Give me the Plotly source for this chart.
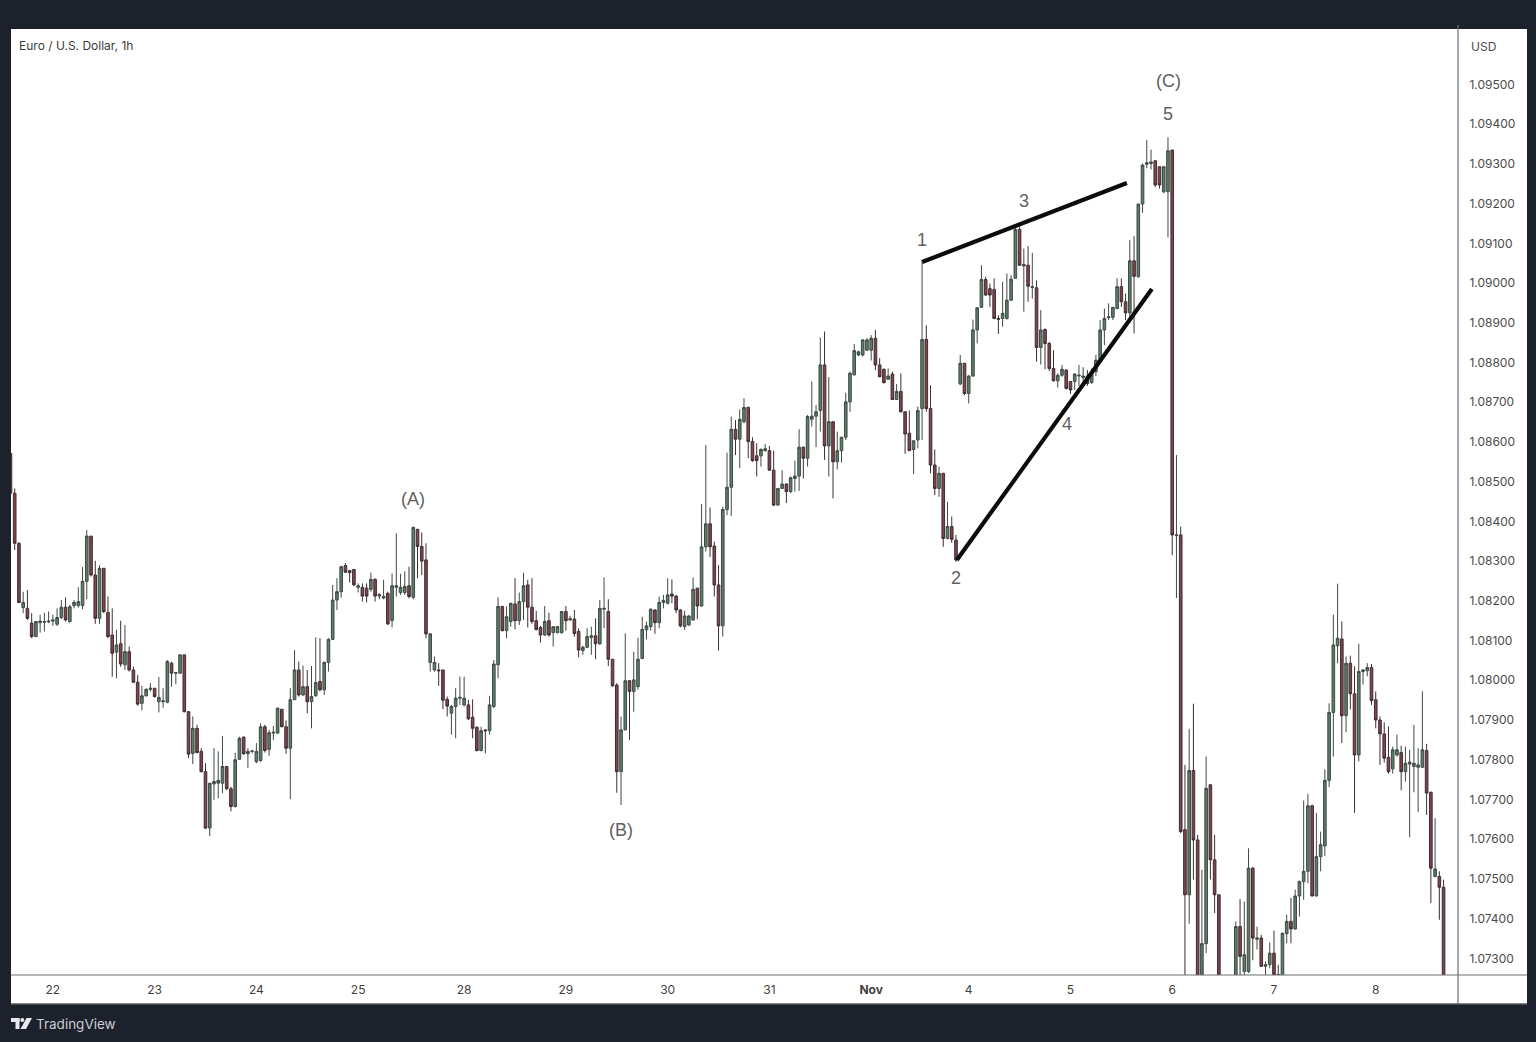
import plotly.graph_objects as go

opens = [1.08571,1.08471,1.08345,1.08183,1.08181,1.08144,1.08110,1.08145,1.08146,1.08147,1.08149,
1.08141,1.08158,1.08184,1.08148,1.08188,1.08188,1.08188,1.08249,1.08363,1.08265,
1.08156,1.08282,1.08171,1.08114,1.08071,1.08092,1.08039,1.08072,1.08026,1.07995,
1.07942,1.07961,1.07977,1.07980,1.07946,1.07946,1.07945,1.08043,1.08018,1.08018,
1.08064,1.07921,1.07816,1.07879,1.07821,1.07770,1.07628,1.07739,1.07741,1.07741,
1.07783,1.07727,1.07682,1.07801,1.07857,1.07815,1.07821,1.07795,1.07798,1.07883,
1.07826,1.07867,1.07867,1.07927,1.07883,1.07829,1.07951,1.08026,1.07963,1.07984,
1.07946,1.07961,1.07997,1.07976,1.08045,1.08103,1.08202,1.08223,1.08289,1.08276,
1.08279,1.08234,1.08234,1.08232,1.08229,1.08254,1.08212,1.08207,1.08219,1.08150,
1.08234,1.08221,1.08221,1.08238,1.08209,1.08380,1.08337,1.08303,1.08045,1.08026,
1.08026,1.08026,1.07952,1.07917,1.07934,1.07955,1.07938,1.07938,1.07907,1.07882,
1.07823,1.07875,1.07873,1.07934,1.08039,1.08186,1.08125,1.08148,1.08192,1.08150,
1.08198,1.08240,1.08184,1.08150,1.08133,1.08114,1.08150,1.08120,1.08120,1.08120,
1.08173,1.08152,1.08154,1.08123,1.08075,1.08083,1.08108,1.08112,1.08092,1.08179,
1.08173,1.08053,1.07988,1.07770,1.07875,1.07999,1.07972,1.07984,1.08055,1.08127,
1.08135,1.08177,1.08145,1.08196,1.08194,1.08217,1.08212,1.08177,1.08135,1.08139,
1.08152,1.08232,1.08187,1.08336,1.08394,1.08338,1.08240,1.08137,1.08430,1.08486,
1.08632,1.08607,1.08651,1.08687,1.08601,1.08565,1.08565,1.08578,1.08578,1.08529,
1.08441,1.08483,1.08494,1.08475,1.08508,1.08514,1.08587,1.08559,1.08657,1.08665,
1.08679,1.08794,1.08590,1.08651,1.08550,1.08578,1.08612,1.08701,1.08769,1.08819,
1.08819,1.08831,1.08831,1.08861,1.08794,1.08783,1.08758,1.08771,1.08707,1.08727,
1.08676,1.08622,1.08581,1.08605,1.08684,1.08858,1.08684,1.08542,1.08483,1.08521,
1.08357,1.08387,1.08353,1.08746,1.08798,1.08722,1.08766,1.08882,1.08939,1.09009,
1.08986,1.08984,1.08911,1.08911,1.08911,1.08957,1.09012,1.09135,1.09043,1.09045,
1.08989,1.08988,1.08838,1.08883,1.08848,1.08785,1.08754,1.08768,1.08781,1.08752,
1.08752,1.08766,1.08762,1.08766,1.08750,1.08777,1.08802,1.08882,1.08913,1.08914,
1.08936,1.08991,1.08953,1.08925,1.09056,1.09016,1.09199,1.09299,1.09301,1.09308,
1.09293,1.09230,1.09230,1.09335,1.08364,1.08366,1.07624,1.07460,1.07773,1.07598,
1.07187,1.07337,1.07737,1.07548,1.07460,1.07187,1.07229,1.07196,1.07229,1.07380,
1.07267,1.07267,1.07527,1.07348,1.07351,1.07280,1.07284,1.07313,1.07259,1.07254,
1.07362,1.07393,1.07374,1.07457,1.07493,1.07519,1.07684,1.07457,1.07556,1.07583,
1.07748,1.07919,1.08087,1.08104,1.07911,1.08043,1.07966,1.07812,1.08022,1.08024,
1.08032,1.07951,1.07900,1.07865,1.07806,1.07777,1.07812,1.07818,1.07770,1.07789,
1.07783,1.07781,1.07781,1.07823,1.07718,1.07506,1.07506,1.07479]

closes = [1.08471,1.08345,1.08196,1.08196,1.08156,1.08110,1.08148,1.08149,1.08148,1.08149,1.08152,
1.08158,1.08184,1.08152,1.08185,1.08196,1.08198,1.08249,1.08363,1.08265,1.08156,
1.08282,1.08173,1.08110,1.08068,1.08089,1.08041,1.08072,1.08026,1.07995,1.07940,
1.07961,1.07977,1.07980,1.07959,1.07957,1.07948,1.08047,1.08018,1.08019,1.08064,
1.07921,1.07814,1.07879,1.07818,1.07770,1.07628,1.07741,1.07745,1.07748,1.07783,
1.07727,1.07682,1.07800,1.07854,1.07815,1.07821,1.07822,1.07821,1.07883,1.07823,
1.07868,1.07869,1.07930,1.07883,1.07829,1.07951,1.08026,1.07963,1.07984,1.07946,
1.07959,1.07994,1.07976,1.08045,1.08103,1.08202,1.08223,1.08286,1.08272,1.08271,
1.08240,1.08238,1.08212,1.08212,1.08254,1.08212,1.08216,1.08211,1.08142,1.08238,
1.08238,1.08234,1.08236,1.08211,1.08385,1.08337,1.08300,1.08117,1.08117,1.08045,
1.08024,1.07950,1.07935,1.07934,1.07955,1.07957,1.07955,1.07903,1.07879,1.07823,
1.07873,1.07873,1.07938,1.08041,1.08186,1.08125,1.08160,1.08194,1.08150,1.08198,
1.08238,1.08184,1.08148,1.08128,1.08114,1.08148,1.08114,1.08135,1.08135,1.08173,
1.08150,1.08155,1.08118,1.08076,1.08083,1.08110,1.08112,1.08092,1.08181,1.08181,
1.08053,1.07986,1.07770,1.07875,1.07999,1.07972,1.08001,1.08053,1.08128,1.08137,
1.08179,1.08145,1.08196,1.08201,1.08215,1.08212,1.08177,1.08137,1.08162,1.08162,
1.08229,1.08187,1.08336,1.08394,1.08336,1.08240,1.08137,1.08430,1.08486,1.08632,
1.08607,1.08657,1.08687,1.08601,1.08553,1.08553,1.08581,1.08583,1.08529,1.08441,
1.08483,1.08494,1.08475,1.08510,1.08514,1.08587,1.08559,1.08664,1.08665,1.08676,
1.08794,1.08590,1.08651,1.08550,1.08578,1.08612,1.08701,1.08773,1.08830,1.08827,
1.08857,1.08857,1.08861,1.08794,1.08764,1.08749,1.08766,1.08707,1.08727,1.08676,
1.08620,1.08578,1.08603,1.08679,1.08858,1.08684,1.08542,1.08483,1.08521,1.08357,
1.08387,1.08355,1.08303,1.08798,1.08722,1.08766,1.08882,1.08938,1.09009,1.08970,
1.08970,1.08911,1.08909,1.08924,1.08957,1.09010,1.09135,1.09045,1.09047,1.08992,
1.08991,1.08838,1.08882,1.08848,1.08785,1.08754,1.08768,1.08783,1.08735,1.08731,
1.08771,1.08768,1.08766,1.08747,1.08777,1.08806,1.08882,1.08911,1.08915,1.08939,
1.08991,1.08953,1.08925,1.09056,1.09017,1.09199,1.09297,1.09303,1.09305,1.09247,
1.09247,1.09293,1.09333,1.08366,1.08366,1.07619,1.07460,1.07773,1.07598,1.07187,
1.07337,1.07728,1.07548,1.07460,1.07187,1.07229,1.07196,1.07238,1.07380,1.07305,
1.07309,1.07527,1.07351,1.07351,1.07280,1.07284,1.07313,1.07259,1.07238,1.07363,
1.07393,1.07374,1.07457,1.07493,1.07519,1.07684,1.07457,1.07556,1.07586,1.07748,
1.07919,1.08089,1.08106,1.07911,1.08043,1.07966,1.07812,1.08022,1.08026,1.08032,
1.07949,1.07900,1.07865,1.07804,1.07770,1.07825,1.07825,1.07770,1.07791,1.07794,
1.07791,1.07787,1.07825,1.07716,1.07527,1.07525,1.07479,1.07187]

highs = [1.08571,1.08483,1.08347,1.08223,1.08227,1.08169,1.08148,1.08165,1.08170,1.08173,1.08165,
1.08181,1.08202,1.08209,1.08190,1.08202,1.08234,1.08285,1.08378,1.08363,1.08301,
1.08290,1.08282,1.08211,1.08181,1.08127,1.08150,1.08139,1.08085,1.08034,1.08013,
1.07986,1.07980,1.07993,1.07980,1.08008,1.07980,1.08051,1.08047,1.08020,1.08064,
1.08064,1.07921,1.07909,1.07888,1.07829,1.07791,1.07741,1.07829,1.07821,1.07860,
1.07784,1.07732,1.07818,1.07858,1.07858,1.07829,1.07825,1.07842,1.07892,1.07888,
1.07875,1.07885,1.07930,1.07927,1.07899,1.07980,1.08076,1.08047,1.08037,1.08026,
1.08036,1.08108,1.08106,1.08047,1.08106,1.08240,1.08257,1.08288,1.08295,1.08278,
1.08280,1.08244,1.08244,1.08244,1.08271,1.08257,1.08219,1.08253,1.08223,1.08269,
1.08370,1.08268,1.08274,1.08286,1.08387,1.08381,1.08372,1.08345,1.08117,1.08060,
1.08043,1.08026,1.07959,1.07938,1.07980,1.08009,1.08009,1.07951,1.07952,1.07883,
1.07883,1.07877,1.07961,1.08051,1.08209,1.08186,1.08186,1.08194,1.08257,1.08221,
1.08271,1.08253,1.08257,1.08175,1.08137,1.08187,1.08170,1.08135,1.08137,1.08173,
1.08187,1.08162,1.08177,1.08131,1.08087,1.08131,1.08135,1.08156,1.08202,1.08259,
1.08204,1.08053,1.07993,1.07909,1.08118,1.08001,1.08072,1.08107,1.08160,1.08148,
1.08181,1.08179,1.08211,1.08215,1.08257,1.08254,1.08215,1.08179,1.08175,1.08164,
1.08259,1.08232,1.08444,1.08592,1.08435,1.08349,1.08290,1.08437,1.08573,1.08664,
1.08655,1.08682,1.08710,1.08689,1.08612,1.08597,1.08584,1.08595,1.08590,1.08578,
1.08483,1.08529,1.08496,1.08513,1.08553,1.08632,1.08588,1.08668,1.08752,1.08693,
1.08863,1.08878,1.08763,1.08651,1.08626,1.08612,1.08724,1.08777,1.08847,1.08830,
1.08858,1.08861,1.08869,1.08882,1.08811,1.08785,1.08785,1.08777,1.08746,1.08773,
1.08676,1.08679,1.08603,1.08689,1.09054,1.08894,1.08743,1.08581,1.08538,1.08522,
1.08449,1.08412,1.08366,1.08819,1.08799,1.08768,1.08908,1.08938,1.09045,1.09016,
1.08999,1.09012,1.08919,1.09003,1.09024,1.09020,1.09146,1.09142,1.09087,1.09093,
1.09076,1.09007,1.08932,1.08886,1.08852,1.08831,1.08773,1.08794,1.08783,1.08752,
1.08773,1.08794,1.08788,1.08781,1.08785,1.08819,1.08907,1.08936,1.08949,1.08940,
1.09012,1.09012,1.08974,1.09108,1.09118,1.09199,1.09301,1.09360,1.09336,1.09308,
1.09293,1.09293,1.09367,1.09335,1.08567,1.08387,1.07787,1.07877,1.07941,1.07611,
1.07523,1.07808,1.07737,1.07611,1.07460,1.07238,1.07246,1.07250,1.07393,1.07449,
1.07443,1.07577,1.07530,1.07380,1.07359,1.07292,1.07340,1.07370,1.07284,1.07365,
1.07410,1.07452,1.07473,1.07496,1.07697,1.07714,1.07687,1.07666,1.07619,1.07776,
1.07942,1.08165,1.08243,1.08148,1.08060,1.08062,1.08035,1.08092,1.08028,1.08043,
1.08041,1.07972,1.07909,1.07894,1.07884,1.07833,1.07863,1.07835,1.07833,1.07825,
1.07888,1.07829,1.07972,1.07840,1.07720,1.07653,1.07519,1.07498]

lows = [1.08471,1.08328,1.08194,1.08169,1.08152,1.08106,1.08110,1.08120,1.08123,1.08144,1.08137,
1.08137,1.08154,1.08148,1.08145,1.08181,1.08183,1.08179,1.08204,1.08261,1.08142,
1.08142,1.08169,1.08106,1.08009,1.08005,1.08034,1.08026,1.08022,1.07993,1.07936,
1.07924,1.07959,1.07972,1.07956,1.07919,1.07931,1.07942,1.07984,1.07990,1.08016,
1.07919,1.07804,1.07789,1.07816,1.07768,1.07625,1.07608,1.07699,1.07703,1.07716,
1.07724,1.07670,1.07680,1.07800,1.07812,1.07779,1.07816,1.07791,1.07795,1.07818,
1.07810,1.07850,1.07865,1.07882,1.07815,1.07701,1.07951,1.07959,1.07961,1.07917,
1.07879,1.07959,1.07972,1.07963,1.08022,1.08102,1.08177,1.08208,1.08271,1.08246,
1.08238,1.08221,1.08198,1.08196,1.08223,1.08198,1.08204,1.08204,1.08139,1.08133,
1.08211,1.08215,1.08215,1.08206,1.08204,1.08257,1.08265,1.08106,1.08022,1.08022,
1.07986,1.07927,1.07909,1.07863,1.07854,1.07938,1.07934,1.07900,1.07854,1.07821,
1.07821,1.07816,1.07863,1.07930,1.08005,1.08123,1.08106,1.08135,1.08128,1.08139,
1.08152,1.08133,1.08142,1.08125,1.08095,1.08112,1.08110,1.08085,1.08118,1.08117,
1.08125,1.08150,1.08110,1.08058,1.08064,1.08081,1.08064,1.08053,1.08089,1.08131,
1.08036,1.07984,1.07717,1.07686,1.07875,1.07850,1.07921,1.07976,1.08053,1.08103,
1.08125,1.08117,1.08131,1.08181,1.08191,1.08194,1.08169,1.08133,1.08127,1.08137,
1.08150,1.08154,1.08185,1.08324,1.08310,1.08211,1.08075,1.08110,1.08416,1.08414,
1.08567,1.08534,1.08647,1.08559,1.08550,1.08513,1.08538,1.08576,1.08528,1.08439,
1.08440,1.08483,1.08446,1.08471,1.08475,1.08477,1.08508,1.08538,1.08639,1.08587,
1.08626,1.08555,1.08513,1.08458,1.08531,1.08548,1.08605,1.08676,1.08767,1.08816,
1.08815,1.08831,1.08805,1.08781,1.08763,1.08748,1.08756,1.08706,1.08706,1.08674,
1.08570,1.08578,1.08519,1.08584,1.08605,1.08676,1.08521,1.08466,1.08462,1.08336,
1.08355,1.08346,1.08298,1.08743,1.08718,1.08697,1.08764,1.08848,1.08938,1.08968,
1.08940,1.08909,1.08872,1.08890,1.08908,1.08955,1.09012,1.09043,1.08928,1.08953,
1.08961,1.08802,1.08795,1.08783,1.08779,1.08752,1.08737,1.08764,1.08732,1.08721,
1.08731,1.08741,1.08747,1.08741,1.08746,1.08766,1.08798,1.08844,1.08907,1.08907,
1.08934,1.08940,1.08907,1.08908,1.08873,1.09014,1.09177,1.09289,1.09286,1.09242,
1.09238,1.09226,1.09115,1.08315,1.08207,1.07615,1.07187,1.07387,1.07498,1.07145,
1.07154,1.07313,1.07498,1.07414,1.07145,1.07170,1.07170,1.07179,1.07196,1.07229,
1.07250,1.07263,1.07295,1.07322,1.07278,1.07238,1.07275,1.07221,1.07221,1.07238,
1.07338,1.07338,1.07372,1.07405,1.07447,1.07489,1.07456,1.07456,1.07519,1.07558,
1.07731,1.07808,1.08043,1.07842,1.07869,1.07927,1.07666,1.07796,1.07989,1.08010,
1.07938,1.07879,1.07787,1.07793,1.07765,1.07765,1.07808,1.07723,1.07745,1.07605,
1.07718,1.07668,1.07780,1.07661,1.07439,1.07504,1.07397,1.07145]

bars = list(range(-1, -1 + len(opens)))

date_tick_bars = [9, 33, 57, 81, 106, 130, 154, 178, 202, 225, 249, 273, 297, 321]
date_tick_text = ["22", "23", "24", "25", "28", "29", "30", "31", "<b>Nov</b>", "4", "5", "6", "7", "8"]
price_ticks = [1.073, 1.074, 1.075, 1.076, 1.077, 1.078, 1.079, 1.080, 1.081, 1.082, 1.083,
               1.084, 1.085, 1.086, 1.087, 1.088, 1.089, 1.090, 1.091, 1.092, 1.093, 1.094, 1.095]

upper_line_bars = [214, 262.3]
upper_line_prices = [1.09053, 1.09252]
lower_line_bars = [222.2, 268.2]
lower_line_prices = [1.08303, 1.08985]

wave_labels = ["(A)", "(B)", "1", "2", "3", "4", "5", "(C)"]
wave_bars = [93.9, 143, 214, 222, 238, 248.2, 272, 272.2]
wave_prices = [1.08457, 1.07624, 1.09109, 1.08258, 1.09207, 1.08645, 1.09426, 1.09509]

W, H = 1536, 1042
def fx(p): return p / W
def fy(p): return 1 - p / H

fig = go.Figure()
fig.add_trace(go.Candlestick(
    x=bars, open=opens, high=highs, low=lows, close=closes,
    increasing=dict(line=dict(color="#3f4a45", width=1), fillcolor="#5a7d6a"),
    decreasing=dict(line=dict(color="#3f2d31", width=1), fillcolor="#80444d"),
    whiskerwidth=0, showlegend=False, hoverinfo="skip"))
fig.add_trace(go.Scatter(x=upper_line_bars, y=upper_line_prices, mode="lines",
                         line=dict(color="#0c0c0c", width=4.2), showlegend=False, hoverinfo="skip"))
fig.add_trace(go.Scatter(x=lower_line_bars, y=lower_line_prices, mode="lines",
                         line=dict(color="#0c0c0c", width=4.2), showlegend=False, hoverinfo="skip"))

annotations = []
for t, b, p in zip(wave_labels, wave_bars, wave_prices):
    annotations.append(dict(x=b, y=p, xref="x", yref="y", text=t, showarrow=False,
                            font=dict(family="Liberation Sans", size=18, color="#5f5f5f")))
annotations += [
    dict(x=fx(19), y=fy(45.5), xref="paper", yref="paper", text="Euro / U.S. Dollar, 1h", showarrow=False,
         xanchor="left", yanchor="middle", xshift=-2, font=dict(family="Inter", size=12, color="#3c3c3c")),
    dict(x=fx(1471), y=fy(46), xref="paper", yref="paper", text="USD", showarrow=False,
         xanchor="left", yanchor="middle", xshift=-2, font=dict(family="Inter", size=12, color="#4a4a4a")),
    dict(x=fx(36), y=fy(1023.5), xref="paper", yref="paper", text="TradingView", showarrow=False,
         xanchor="left", yanchor="middle", xshift=-2, font=dict(family="Inter", size=13.5, color="#c9ccd2")),
]

def rect(x0, y0, x1, y1, fill, layer="below"):
    return dict(type="rect", xref="paper", yref="paper", x0=fx(x0), x1=fx(x1), y0=fy(y0), y1=fy(y1),
                fillcolor=fill, line=dict(width=0), layer=layer)
def hline(x0, x1, y, c="#6b6e75", w=1.2):
    return dict(type="line", xref="paper", yref="paper", x0=fx(x0), x1=fx(x1), y0=fy(y), y1=fy(y),
                line=dict(color=c, width=w), layer="above")
def vline(x, y0, y1, c="#6b6e75", w=1.2):
    return dict(type="line", xref="paper", yref="paper", x0=fx(x), x1=fx(x), y0=fy(y0), y1=fy(y1),
                line=dict(color=c, width=w), layer="above")

shapes = [
    rect(11, 29, 1527, 1004, "#ffffff"),
    hline(11, 1527, 975),
    hline(11, 1527, 1004, "#55585f", 1.5),
    vline(1458, 25, 1004),
    # TradingView mark
    rect(11, 1018, 19.5, 1022, "#e6e8ec", "above"),
    rect(15.5, 1018, 19.5, 1029, "#e6e8ec", "above"),
    dict(type="circle", xref="paper", yref="paper", x0=fx(20.3), x1=fx(24.3), y0=fy(1018), y1=fy(1022),
         fillcolor="#e6e8ec", line=dict(width=0), layer="above"),
    dict(type="path", xref="paper", yref="paper",
         path=f"M {fx(26.5)} {fy(1018)} L {fx(32)} {fy(1018)} L {fx(26)} {fy(1029)} L {fx(20.5)} {fy(1029)} Z",
         fillcolor="#e6e8ec", line=dict(width=0), layer="above"),
]

fig.update_layout(
    width=W, height=H, autosize=False,
    margin=dict(l=0, r=0, t=0, b=0),
    paper_bgcolor="#1d212c", plot_bgcolor="#ffffff",
    showlegend=False, annotations=annotations, shapes=shapes, boxgap=0.12,
    xaxis=dict(domain=[fx(11), fx(1458)], range=[-0.873, 340.4], rangeslider=dict(visible=False),
               showgrid=False, zeroline=False, showline=False, tickmode="array",
               tickvals=date_tick_bars, ticktext=date_tick_text, ticks="outside", ticklen=4,
               tickcolor="rgba(255,255,255,0)", tickfont=dict(family="Inter", size=12, color="#3f3f3f")),
    yaxis=dict(domain=[fy(975), fy(29)], range=[1.07258, 1.096397], side="right",
               showgrid=False, zeroline=False, showline=False, tickmode="array",
               tickvals=price_ticks, tickformat=".5f", ticks="outside", ticklen=8,
               tickcolor="rgba(255,255,255,0)", tickfont=dict(family="Inter", size=12, color="#4a4a4a")),
)

fig.write_html("out.html", config={"displayModeBar": False},
               post_script="document.body.style.margin='0';document.body.style.background='#1d212c';")
